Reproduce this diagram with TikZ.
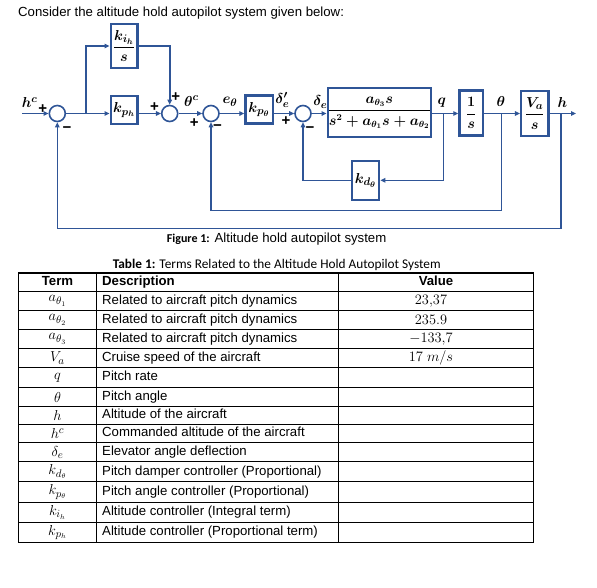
\documentclass[tikz,border=0pt]{standalone}
\usepackage{amsmath}
\usepackage{fontspec}
\setmainfont{Liberation Sans}
\newfontfamily\calib{Carlito}
\usetikzlibrary{arrows.meta}
\definecolor{dblue}{RGB}{47,85,151}
\begin{document}
\begin{tikzpicture}[x=1pt,y=-1pt,
  blk/.style={draw=dblue, line width=2.3pt, inner sep=0pt, font=\fontsize{15.5}{18}\selectfont\boldmath},
  sumc/.style={circle, draw=dblue, line width=1.6pt, minimum size=16pt, inner sep=0pt},
  wire/.style={draw=dblue, line width=1.6pt, -{Triangle[length=5pt,width=4.5pt]}},
  lab/.style={inner sep=0pt, font=\fontsize{15}{17}\selectfont\boldmath},
  sgn/.style={inner sep=0pt, font=\fontsize{15}{16}\selectfont\bfseries},
  txt/.style={inner sep=0pt, font=\fontsize{13.2}{15}\selectfont, text height=9.5pt, text depth=2.8pt},
  hdr/.style={txt, font=\fontsize{13.2}{15}\selectfont\bfseries},
  cell/.style={inner sep=0pt, font=\fontsize{15}{17}\selectfont},
  tline/.style={draw=black, line width=1.2pt}
]
\useasboundingbox[fill=white] (0,0) rectangle (597,587);

% title
\node[txt, anchor=west] (title) at (18,13) {Consider the altitude hold autopilot system given below:};

% blocks
\node[blk, minimum width=26.7pt, minimum height=44.4pt] (kih) at (124,46) {$\dfrac{k_{i_h}}{s}$};
\node[blk, minimum width=26.7pt, minimum height=28.5pt] (kph) at (124,110) {$k_{p_h}$};
\node[blk, minimum width=27.2pt, minimum height=28pt] (kpt) at (259.1,109.5) {$k_{p_\theta}$};
\node[blk, minimum width=90pt, minimum height=49pt, font=\fontsize{13.5}{15}\selectfont\boldmath] (tf) at (379.3,112.8) {$\dfrac{a_{\theta_3}s}{s^2+a_{\theta_1}s+a_{\theta_2}}$};
\node[blk, minimum width=23.3pt, minimum height=45pt] (ints) at (471.1,113) {$\dfrac{1}{s}$};
\node[blk, minimum width=27.3pt, minimum height=45.3pt] (vas) at (534.7,113.3) {$\dfrac{V_a}{s}$};
\node[blk, minimum width=27.6pt, minimum height=39.3pt] (kdt) at (365.5,180.3) {$k_{d_\theta}$};

% summing junctions
\node[sumc] (s1) at (57.3,113.5) {};
\node[sumc] (s2) at (169.7,113.5) {};
\node[sumc] (s3) at (211,113.5) {};
\node[sumc] (s4) at (303,113.5) {};

% coordinates
\coordinate (in) at (22,113.5);
\coordinate (b1) at (86,113.5);
\coordinate (bq) at (443.3,113.5);
\coordinate (bt) at (501.5,113.5);
\coordinate (bh) at (561,113.5);
\coordinate (out) at (576,113.5);
\coordinate (q1) at (443.3,180.3);
\coordinate (t1) at (501.5,210.5);
\coordinate (h1) at (561,228.3);

% forward wires
\draw[wire] (in) -- (s1.west);
\draw[wire] (s1.east) -- (s1.east -| kph.west);
\draw[wire] (b1) |- (kih.west);
\draw[wire] (kih.east) -| (s2.north);
\draw[wire] (kph.east |- s2) -- (s2.west);
\draw[wire] (s2.east) -- (s3.west);
\draw[wire] (s3.east) -- (s3.east -| kpt.west);
\draw[wire] (kpt.east |- s4) -- (s4.west);
\draw[wire] (s4.east) -- (s4.east -| tf.west);
\draw[wire] (tf.east |- s4) -- (ints.west |- s4);
\draw[wire] (ints.east |- s4) -- (vas.west |- s4);
\draw[wire] (vas.east |- s4) -- (out);

% feedback wires
\draw[wire] (bq) -- (q1) -- (kdt.east);
\draw[wire] (kdt.west) -| (s4.south);
\draw[wire] (bt) -- (t1) -| (s3.south);
\draw[wire] (bh) -- (h1) -| (s1.south);

% labels
\node[lab] (lhc) at (29.7,102.5) {$h^c$};
\node[sgn] (p1) at (42.7,109) {+};
\node[sgn] (m1) at (67,130) {\textminus};
\node[sgn] (p2a) at (154.5,107) {+};
\node[sgn] (p2b) at (175.8,97.3) {+};
\node[lab] (ltc) at (191.5,101) {$\theta^c$};
\node[sgn] (p3) at (194.3,123) {+};
\node[sgn] (m3) at (217.5,128) {\textminus};
\node[lab] (let) at (230,101.7) {$e_\theta$};
\node[lab] (lde1) at (282.5,100) {$\delta_e'$};
\node[sgn] (p4) at (286,121.5) {+};
\node[sgn] (m4) at (310,129.5) {\textminus};
\node[lab] (lde) at (320.5,102) {$\delta_e$};
\node[lab] (lq) at (441.7,102.5) {$q$};
\node[lab] (lth) at (500.8,101.7) {$\theta$};
\node[lab] (lh) at (562.3,102.5) {$h$};

% figure caption
\node[txt, anchor=west] (fcap) at (166.7,239.5) {{\calib\fontsize{12}{14}\selectfont\bfseries Figure 1:} Altitude hold autopilot system};

% table caption
\node[inner sep=0pt, anchor=west, font=\calib\fontsize{13.3}{15}\selectfont] (tcap) at (112.6,265) {\textbf{Table 1:} Terms Related to the Altitude Hold Autopilot System};

% table grid
\def\xa{18.3}\def\xb{96.6}\def\xc{338.2}\def\xd{533.6}
\draw[tline] (\xa,273) rectangle (\xd,542.3);
\draw[tline] (\xb,273) -- (\xb,542.3);
\draw[tline] (\xc,273) -- (\xc,542.3);
\foreach \yy in {291.3,310.3,329.3,348.5,367.8,387.5,406.5,424.5,442.5,461.7,481.7,502.3,522.3}
  \draw[tline] (\xa,\yy) -- (\xd,\yy);

% header
\node[hdr] (hterm) at (57.5,282.2) {Term};
\node[hdr, anchor=west] (hdesc) at (102,282.2) {Description};
\node[hdr] (hval) at (436,282.2) {Value};

% rows
\node[cell] (t1c) at (57.5,300.8) {$a_{\theta_1}$};
\node[txt, anchor=west] (d1) at (102,300.8) {Related to aircraft pitch dynamics};
\node[cell] (v1) at (431,300.8) {$23{,}37$};
\node[cell] (t2c) at (57.5,319.8) {$a_{\theta_2}$};
\node[txt, anchor=west] (d2) at (102,319.8) {Related to aircraft pitch dynamics};
\node[cell] (v2) at (431,319.8) {$235.9$};
\node[cell] (t3c) at (57.5,338.9) {$a_{\theta_3}$};
\node[txt, anchor=west] (d3) at (102,338.9) {Related to aircraft pitch dynamics};
\node[cell] (v3) at (431,338.9) {$-133{,}7$};
\node[cell] (t4c) at (57.5,358.1) {$V_a$};
\node[txt, anchor=west] (d4) at (102,358.1) {Cruise speed of the aircraft};
\node[cell] (v4) at (431,358.1) {$17\;m/s$};
\node[cell] (t5c) at (57.5,377.6) {$q$};
\node[txt, anchor=west] (d5) at (102,377.6) {Pitch rate};
\node[cell] (t6c) at (57.5,397) {$\theta$};
\node[txt, anchor=west] (d6) at (102,397) {Pitch angle};
\node[cell] (t7c) at (57.5,415.5) {$h$};
\node[txt, anchor=west] (d7) at (102,415.5) {Altitude of the aircraft};
\node[cell] (t8c) at (57.5,433.5) {$h^c$};
\node[txt, anchor=west] (d8) at (102,433.5) {Commanded altitude of the aircraft};
\node[cell] (t9c) at (57.5,452.1) {$\delta_e$};
\node[txt, anchor=west] (d9) at (102,452.1) {Elevator angle deflection};
\node[cell] (t10c) at (57.5,471.7) {$k_{d_\theta}$};
\node[txt, anchor=west] (d10) at (102,471.7) {Pitch damper controller (Proportional)};
\node[cell] (t11c) at (57.5,492) {$k_{p_\theta}$};
\node[txt, anchor=west] (d11) at (102,492) {Pitch angle controller (Proportional)};
\node[cell] (t12c) at (57.5,512.3) {$k_{i_h}$};
\node[txt, anchor=west] (d12) at (102,512.3) {Altitude controller (Integral term)};
\node[cell] (t13c) at (57.5,532.3) {$k_{p_h}$};
\node[txt, anchor=west] (d13) at (102,532.3) {Altitude controller (Proportional term)};
\end{tikzpicture}
\end{document}
